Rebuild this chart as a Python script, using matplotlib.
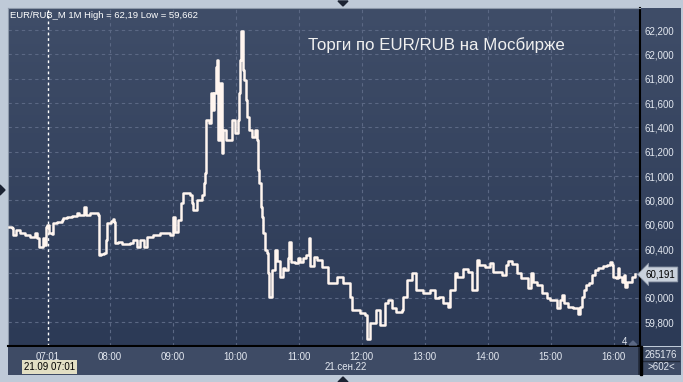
import numpy as np
import matplotlib
matplotlib.use("Agg")
import matplotlib.pyplot as plt
from matplotlib.colors import LinearSegmentedColormap
from matplotlib.patches import Polygon, Rectangle
from matplotlib.ticker import FuncFormatter

plt.rcParams['font.family'] = ['Liberation Sans', 'DejaVu Sans']

# Котировки EUR/RUB_M, 1 минута, 21.09.22
times = [
    "06:24", "06:27", "06:28", "06:31", "06:34", "06:39", "06:44", "06:49", "06:51", "06:53",
    "06:56", "06:57", "06:59", "07:00", "07:02", "07:05", "07:06", "07:10", "07:14", "07:15",
    "07:19", "07:24", "07:29", "07:31", "07:35", "07:37", "07:41", "07:44", "07:49", "07:50",
    "07:52", "07:54", "07:56", "07:57", "08:01", "08:03", "08:04", "08:05", "08:08", "08:12",
    "08:19", "08:22", "08:26", "08:29", "08:33", "08:35", "08:41", "08:48", "08:54", "08:57",
    "09:00", "09:02", "09:05", "09:08", "09:10", "09:14", "09:16", "09:18", "09:19", "09:23",
    "09:28", "09:30", "09:31", "09:32", "09:34", "09:36", "09:38", "09:39", "09:41", "09:42",
    "09:43", "09:45", "09:47", "09:48", "09:51", "09:54", "09:56", "09:59", "10:02", "10:03",
    "10:04", "10:05", "10:07", "10:08", "10:10", "10:11", "10:13", "10:15", "10:18", "10:20",
    "10:21", "10:22", "10:24", "10:25", "10:26", "10:28", "10:30", "10:31", "10:32", "10:34",
    "10:37", "10:39", "10:42", "10:45", "10:47", "10:50", "10:51", "10:53", "10:56", "10:59",
    "11:01", "11:04", "11:07", "11:10", "11:11", "11:14", "11:17", "11:22", "11:28", "11:36",
    "11:42", "11:49", "11:51", "11:58", "12:03", "12:05", "12:08", "12:14", "12:17", "12:22",
    "12:25", "12:29", "12:33", "12:38", "12:39", "12:43", "12:48", "12:52", "12:58", "13:05",
    "13:10", "13:14", "13:17", "13:22", "13:24", "13:29", "13:31", "13:36", "13:41", "13:45",
    "13:50", "13:52", "13:57", "14:02", "14:05", "14:10", "14:14", "14:17", "14:19", "14:23",
    "14:28", "14:32", "14:35", "14:38", "14:41", "14:43", "14:47", "14:50", "14:52", "14:56",
    "14:59", "15:02", "15:06", "15:09", "15:11", "15:13", "15:16", "15:21", "15:25", "15:26",
    "15:28", "15:30", "15:32", "15:34", "15:36", "15:39", "15:42", "15:45", "15:50", "15:54",
    "15:56", "15:58", "15:59", "16:02", "16:04", "16:05", "16:08", "16:10", "16:11", "16:13",
    "16:17", "16:20",
]
prices = [
    60.581, 60.573, 60.516, 60.557, 60.532, 60.516, 60.499, 60.532, 60.491, 60.417,
    60.491, 60.433, 60.581, 60.598, 60.532, 60.524, 60.614, 60.622, 60.639, 60.655,
    60.663, 60.672, 60.696, 60.680, 60.746, 60.680, 60.696, 60.696, 60.680, 60.351,
    60.359, 60.368, 60.474, 60.614, 60.631, 60.647, 60.622, 60.450, 60.458, 60.442,
    60.450, 60.474, 60.417, 60.474, 60.417, 60.499, 60.516, 60.532, 60.532, 60.516,
    60.663, 60.540, 60.639, 60.778, 60.861, 60.861, 60.844, 60.778, 60.721, 60.803,
    60.844, 60.943, 61.025, 61.460, 61.436, 61.682, 61.543, 61.682, 61.896, 61.953,
    61.296, 61.764, 61.189, 61.378, 61.296, 61.296, 61.460, 61.354, 61.460, 61.682,
    61.953, 62.190, 61.871, 61.789, 61.625, 61.485, 61.378, 61.321, 61.378, 61.296,
    61.050, 60.943, 60.746, 60.663, 60.532, 60.392, 60.368, 60.203, 60.006, 60.228,
    60.392, 60.300, 60.170, 60.244, 60.228, 60.327, 60.458, 60.294, 60.285, 60.327,
    60.294, 60.327, 60.350, 60.491, 60.261, 60.335, 60.310, 60.253, 60.121, 60.170,
    60.121, 60.006, 59.899, 59.875, 59.858, 59.662, 59.792, 59.899, 59.776, 59.957,
    59.981, 59.916, 59.883, 59.899, 60.006, 60.146, 60.203, 60.064, 60.039, 60.064,
    59.998, 60.006, 59.957, 59.924, 60.064, 60.203, 60.170, 60.236, 60.211, 60.064,
    60.310, 60.269, 60.253, 60.285, 60.211, 60.211, 60.187, 60.269, 60.302, 60.277,
    60.203, 60.162, 60.162, 60.080, 60.203, 60.129, 60.105, 60.105, 60.039, 59.998,
    59.981, 59.981, 59.916, 59.981, 60.023, 59.957, 59.924, 59.916, 59.916, 59.866,
    59.924, 60.006, 60.064, 60.105, 60.121, 60.187, 60.228, 60.244, 60.261, 60.269,
    60.294, 60.269, 60.170, 60.162, 60.244, 60.170, 60.129, 60.187, 60.088, 60.129,
    60.170, 60.191,
]
hour_ticks = ["07:01", "08:00", "09:00", "10:00", "11:00", "12:00", "13:00", "14:00", "15:00", "16:00"]
price_ticks = [59.8, 60.0, 60.2, 60.4, 60.6, 60.8, 61.0, 61.2, 61.4, 61.6, 61.8, 62.0, 62.2]
cursor_time = "07:01"
high, low = "62,19", "59,662"
volume, count = "265176", ">602<"


def to_min(t):
    h, m = t.split(":")
    return int(h) * 60 + int(m)


W, H = 683, 382


def px(x, y):
    # пиксели картинки -> доли фигуры
    return x / W, 1 - y / H


def box(x0, y0, x1, y1):
    return [x0 / W, 1 - y1 / H, (x1 - x0) / W, (y1 - y0) / H]


def fmt(v, pos=None):
    # метку 60,200 закрывает ярлык последней цены
    if abs(v - 60.2) < 1e-6:
        return ""
    return f"{v:.3f}".replace(".", ",")


x = np.array([to_min(t) for t in times])
y = np.array(prices)

fig = plt.figure(figsize=(W / 100, H / 100), dpi=100, facecolor="#bfcad8")

# основная область графика
ax = fig.add_axes(box(8, 8, 640, 346))
cmap = LinearSegmentedColormap.from_list("bg", ["#2c3a56", "#3f4d68"])
ax.imshow(np.linspace(0, 1, 256).reshape(-1, 1), extent=[0, 1, 0, 1], transform=ax.transAxes,
          cmap=cmap, aspect="auto", origin="lower", zorder=0)
ax.set_xlim(383, 985)
ax.set_ylim(59.603, 62.381)

grid_kw = dict(color="#5b6884", lw=0.8, ls=(0, (3, 3)), zorder=1)
for p in price_ticks:
    ax.axhline(p, **grid_kw)
for t in hour_ticks[1:]:
    ax.axvline(to_min(t), **grid_kw)
ax.axvline(to_min(cursor_time), color="white", lw=1.0, ls=(0, (2, 2)), zorder=2)

ax.plot(x, y, color="#fff5ef", lw=1.8, drawstyle="steps-post", zorder=3)

ax.xaxis.set_visible(False)
ax.yaxis.tick_right()
ax.set_yticks(price_ticks)
ax.yaxis.set_major_formatter(FuncFormatter(fmt))
ax.tick_params(axis="y", length=0, pad=3, labelsize=7, labelcolor="#e3e8f0")
for s in ["top", "left"]:
    ax.spines[s].set_color("#8d99aa")
    ax.spines[s].set_linewidth(0.8)
for s in ["bottom", "right"]:
    ax.spines[s].set_color("black")
    ax.spines[s].set_linewidth(1.5)

# правая панель цен (фон)
rp = fig.add_axes(box(640, 8, 681, 346), zorder=-1)
rp.imshow(np.linspace(0, 1, 256).reshape(-1, 1), extent=[0, 1, 0, 1], transform=rp.transAxes,
          cmap=cmap, aspect="auto", origin="lower")
rp.axis("off")

# ярлык последней цены
ax.annotate(f"{prices[-1]:.3f}".replace(".", ","), xy=(1, prices[-1]),
            xycoords=("axes fraction", "data"), xytext=(4, 0), textcoords="offset points",
            ha="left", va="center", fontsize=7, color="black", annotation_clip=False,
            bbox=dict(boxstyle="larrow,pad=0.25", fc="#c9d1dc", ec="#8e98a8", lw=0.6))

# нижняя панель времени
bp = fig.add_axes(box(8, 347, 640, 375))
bp.set_facecolor("#3e4b65")
bp.set_xlim(ax.get_xlim())
bp.set_ylim(0, 1)
bp.set_yticks([])
bp.set_xticks([to_min(t) for t in hour_ticks])
bp.set_xticklabels(hour_ticks)
bp.xaxis.tick_top()
bp.tick_params(axis="x", length=0, pad=-11, labelsize=7, labelcolor="#e3e8f0")
for s in bp.spines.values():
    s.set_visible(False)
bp.axvline(to_min("16:24"), ymin=0.05, ymax=0.95, color="#222a3a", lw=1.2)

fig.text(*px(325, 367), "21.сен.22", fontsize=7, color="#e3e8f0", va="center", ha="left")
fig.text(*px(24, 367), "21.09 07:01", fontsize=7, color="black", va="center", ha="left",
         bbox=dict(boxstyle="square,pad=0.2", fc="#e2dfc4", ec="none"))

# правая нижняя панель
cp = fig.add_axes(box(641, 347, 681, 375))
cp.set_facecolor("#3e4b65")
cp.set_xticks([])
cp.set_yticks([])
for s in cp.spines.values():
    s.set_visible(False)
cp.axhline(0.5, xmin=0.05, xmax=0.95, color="#222a3a", lw=1)
fig.text(*px(661, 355), volume, fontsize=7, color="#e3e8f0", ha="center", va="center")
fig.text(*px(661, 367), count, fontsize=7, color="#e3e8f0", ha="center", va="center")
fig.add_artist(Rectangle(px(640, 375), 1.5 / W, 29 / H, transform=fig.transFigure, color="black"))

# подписи
fig.text(*px(10, 15), f"EUR/RUB_M 1M High = {high} Low = {low}", fontsize=6.8,
         color="white", ha="left", va="center")
fig.text(*px(436, 45), "Торги по EUR/RUB на Мосбирже", fontsize=12.2, color="#f0f0f0",
         ha="center", va="center")
fig.text(*px(624, 342), "4", fontsize=7, color="#e3e8f0", ha="center", va="center")

# треугольники-маркеры по краям
tri = [
    [px(338, 1), px(348, 1), px(343, 6)],
    [px(338, 382), px(348, 382), px(343, 377)],
    [px(0, 185), px(0, 195), px(5, 190)],
    [px(629, 345), px(637, 345), px(633, 341)],
]
for i, pts in enumerate(tri):
    fig.add_artist(Polygon(pts, closed=True, transform=fig.transFigure,
                           color="#1c2333" if i < 3 else "#5b6884"))

fig.savefig("out.png", dpi=100, facecolor=fig.get_facecolor())
